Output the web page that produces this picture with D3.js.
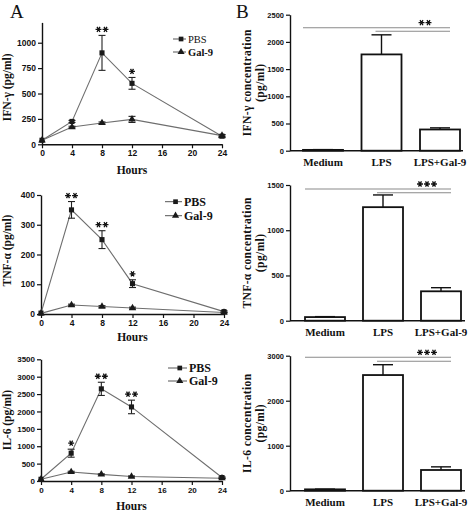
<!DOCTYPE html>
<html><head><meta charset="utf-8">
<script src="https://cdn.jsdelivr.net/npm/d3@7"></script>
<style>
body{margin:0;background:#fff;}
svg{display:block;}
.tick text{font-family:"Liberation Sans",Arial,sans-serif;font-weight:bold;fill:#111;}
.ser{font-family:"Liberation Serif","Times New Roman",serif;font-weight:bold;fill:#111;}
</style>
</head><body>
<svg id="c" width="474" height="512"></svg>
<script>
// ---------- data ----------
const hours = [0, 4, 8, 12, 24];
const hourTicks = [0, 4, 8, 12, 16, 20, 24];

const ifnPBS = [40, 225, 900, 600, 80];
const ifnPBSerr = [0, 10, 172, 58, 15];
const ifnGal = [40, 170, 210, 245, 85];
const ifnGalErr = [0, 8, 10, 30, 8];
const ifnStars = [0, 0, 2, 1, 0];
const ifnTicks = [0, 250, 500, 750, 1000];

const tnfPBS = [3, 350, 250, 102, 8];
const tnfPBSerr = [0, 28, 30, 13, 3];
const tnfGal = [2, 30, 25, 20, 5];
const tnfGalErr = [0, 3, 3, 3, 2];
const tnfStars = [0, 2, 2, 1, 0];
const tnfTicks = [0, 100, 200, 300, 400];

const il6PBS = [50, 800, 2650, 2130, 100];
const il6PBSerr = [0, 115, 190, 195, 20];
const il6Gal = [50, 260, 190, 130, 80];
const il6GalErr = [0, 20, 15, 15, 10];
const il6Stars = [0, 1, 2, 2, 0];
const il6Ticks = [0, 500, 1000, 1500, 2000, 2500, 3000, 3500];

const groups = ["Medium", "LPS", "LPS+Gal-9"];
const ifnBar = [15, 1770, 390];
const ifnBarErr = [5, 360, 30];
const ifnBarTicks = [0, 500, 1000, 1500, 2000, 2500];
const ifnBarStars = 2;
const tnfBar = [40, 1255, 325];
const tnfBarErr = [5, 135, 40];
const tnfBarTicks = [0, 500, 1000, 1500];
const tnfBarStars = 3;
const il6Bar = [30, 2570, 460];
const il6BarErr = [5, 230, 70];
const il6BarTicks = [0, 1000, 2000, 3000];
const il6BarStars = 3;

const seriesNames = ["PBS", "Gal-9"];

// ---------- drawing ----------
const svg = d3.select("#c");
const serif = '"Liberation Serif","Times New Roman",serif';
const fmt = d3.format("d");
const starSym = d3.symbol().type(d3.symbolAsterisk).size(24);

function drawStars(g, n, cx, cy) {
  const sp = 7;
  for (let k = 0; k < n; k++) {
    const sx = cx + (k - (n - 1) / 2) * sp;
    g.append("path").attr("d", starSym()).attr("transform", `translate(${sx},${cy}) rotate(90)`)
      .attr("fill", "none").attr("stroke", "#111").attr("stroke-width", 1.3);
  }
}

function linePanel(o) {
  const g = svg.append("g");
  const x = d3.scaleLinear().domain([0, 24]).range(o.xr);
  const y = d3.scaleLinear().domain([0, o.ymax]).range(o.yr);
  const ya = g.append("g").attr("transform", `translate(${o.xr[0]},0)`)
    .call(d3.axisLeft(y).tickValues(o.ticks).tickFormat(fmt).tickSize(4).tickSizeOuter(0).tickPadding(2));
  const xa = g.append("g").attr("transform", `translate(0,${o.yr[0]})`)
    .call(d3.axisBottom(x).tickValues(hourTicks).tickFormat(fmt).tickSize(4).tickSizeOuter(0).tickPadding(2));
  [ya, xa].forEach(a => {
    a.select(".domain").attr("stroke", "#111").attr("stroke-width", 1.4);
    a.selectAll(".tick line").attr("stroke", "#111").attr("stroke-width", 1.2);
    a.selectAll(".tick text").style("font-size", o.tickFs + "px");
  });
  const sets = [
    {v: o.pbs, e: o.pbsErr, m: "square"},
    {v: o.gal, e: o.galErr, m: "triangle"}
  ];
  sets.forEach(s => {
    const pts = hours.map((h, i) => [h, s.v[i], s.e[i]]);
    g.append("path").datum(pts)
      .attr("d", d3.line().x(d => x(d[0])).y(d => y(d[1])))
      .attr("fill", "none").attr("stroke", "#6e6e6e").attr("stroke-width", 1.1);
    pts.forEach(d => {
      if (d[2] > 0) {
        const cx = x(d[0]), y1 = y(d[1] + d[2]), y2 = y(Math.max(0, d[1] - d[2]));
        g.append("line").attr("x1", cx).attr("x2", cx).attr("y1", y1).attr("y2", y2)
          .attr("stroke", "#222").attr("stroke-width", 1.1);
        [y1, y2].forEach(yy => g.append("line").attr("x1", cx - 3.5).attr("x2", cx + 3.5)
          .attr("y1", yy).attr("y2", yy).attr("stroke", "#222").attr("stroke-width", 1.1));
      }
      g.append("path")
        .attr("d", d3.symbol().type(s.m === "square" ? d3.symbolSquare : d3.symbolTriangle)
          .size(s.m === "square" ? 26 : 24)())
        .attr("transform", `translate(${x(d[0])},${y(d[1])})`).attr("fill", "#1a1a1a");
    });
  });
  hours.forEach((h, i) => {
    if (!o.stars[i]) return;
    drawStars(g, o.stars[i], x(h), y(o.pbs[i] + o.pbsErr[i]) - 6);
  });
  seriesNames.forEach((n, i) => {
    const ly = o.leg[1] + i * o.leg[2];
    g.append("line").attr("x1", o.leg[0]).attr("x2", o.leg[0] + o.legLen).attr("y1", ly).attr("y2", ly)
      .attr("stroke", "#555").attr("stroke-width", 1);
    g.append("path").attr("d", d3.symbol().type(i === 0 ? d3.symbolSquare : d3.symbolTriangle).size(22)())
      .attr("transform", `translate(${o.leg[0] + o.legLen * 0.62},${ly})`).attr("fill", "#1a1a1a");
    g.append("text").attr("class", "ser").attr("x", o.leg[0] + o.legLen + 2).attr("y", ly).attr("dy", "0.35em")
      .style("font-size", o.legFs + "px").style("font-weight", (o.legNormalFirst && i === 0) ? "normal" : "bold")
      .text(n);
  });
  g.append("text").attr("class", "ser").attr("x", (o.xr[0] + o.xr[1]) / 2).attr("y", o.hoursY)
    .attr("text-anchor", "middle").style("font-size", "11.5px").text("Hours");
  g.append("text").attr("class", "ser")
    .attr("transform", `translate(${o.ylabX},${(o.yr[0] + o.yr[1]) / 2 + o.ylabDy}) rotate(-90)`)
    .attr("text-anchor", "middle").style("font-size", "11.5px").text(o.ylab);
}

function barPanel(o) {
  const g = svg.append("g");
  const x = d3.scalePoint().domain(groups).range(o.xr);
  const y = d3.scaleLinear().domain([0, o.ymax]).range(o.yr);
  const bw = 40;
  const ya = g.append("g").attr("transform", `translate(${o.axisX},0)`)
    .call(d3.axisLeft(y).tickValues(o.ticks).tickFormat(fmt).tickSize(4).tickSizeOuter(0).tickPadding(2));
  ya.select(".domain").attr("stroke", "#111").attr("stroke-width", 1.4);
  ya.selectAll(".tick line").attr("stroke", "#111").attr("stroke-width", 1.2);
  ya.selectAll(".tick text").style("font-size", "7.5px");
  g.append("line").attr("x1", o.axisX).attr("x2", o.axisEnd).attr("y1", o.yr[0]).attr("y2", o.yr[0])
    .attr("stroke", "#111").attr("stroke-width", 1.4);
  groups.forEach((c, i) => {
    const cx = x(c);
    const top = y(o.vals[i] + o.errs[i]);
    g.append("line").attr("x1", cx).attr("x2", cx).attr("y1", top).attr("y2", y(o.vals[i]))
      .attr("stroke", "#111").attr("stroke-width", 1.4);
    g.append("line").attr("x1", cx - 10).attr("x2", cx + 10).attr("y1", top).attr("y2", top)
      .attr("stroke", "#111").attr("stroke-width", 1.4);
    g.append("rect").attr("x", cx - bw / 2).attr("width", bw)
      .attr("y", y(o.vals[i])).attr("height", y(0) - y(o.vals[i]))
      .attr("fill", "#fff").attr("stroke", "#111").attr("stroke-width", 1.8);
    g.append("text").attr("class", "ser").attr("x", cx).attr("y", o.yr[0] + 15)
      .attr("text-anchor", "middle").style("font-size", "11px").text(c);
  });
  const s1 = x(groups[0]) - 20, s2 = x(groups[2]) + 10, s3 = x(groups[1]) - 6;
  g.append("line").attr("x1", s1).attr("x2", s2).attr("y1", o.sigY).attr("y2", o.sigY)
    .attr("stroke", "#8a8a8a").attr("stroke-width", 1.1);
  g.append("line").attr("x1", s3).attr("x2", s2).attr("y1", o.sigY + o.sigGap).attr("y2", o.sigY + o.sigGap)
    .attr("stroke", "#8a8a8a").attr("stroke-width", 1.1);
  drawStars(g, o.star, o.starX, o.sigY - 5);
  const cy = (o.yr[0] + o.yr[1]) / 2;
  g.append("text").attr("class", "ser").attr("transform", `translate(251,${cy}) rotate(-90)`)
    .attr("text-anchor", "middle").style("font-size", "11.5px").style("letter-spacing", "0.4px").text(o.ylab);
  g.append("text").attr("class", "ser").attr("transform", `translate(264,${cy}) rotate(-90)`)
    .attr("text-anchor", "middle").style("font-size", "11.5px").style("letter-spacing", "0.4px").text("(pg/ml)");
}

linePanel({xr: [42, 222], yr: [144.3, 22.4], ymax: 1200, ticks: ifnTicks,
  pbs: ifnPBS, pbsErr: ifnPBSerr, gal: ifnGal, galErr: ifnGalErr, stars: ifnStars,
  leg: [173, 39, 13], legLen: 13, legFs: 10.5, legNormalFirst: true, tickFs: 8.5,
  hoursY: 174, ylabX: 11, ylabDy: 4, ylab: "IFN-γ (pg/ml)"});
linePanel({xr: [41, 224], yr: [314, 195], ymax: 400, ticks: tnfTicks,
  pbs: tnfPBS, pbsErr: tnfPBSerr, gal: tnfGal, galErr: tnfGalErr, stars: tnfStars,
  leg: [165, 201.7, 14], legLen: 17, legFs: 12, tickFs: 8.5,
  hoursY: 341, ylabX: 11, ylabDy: -4, ylab: "TNF-α (pg/ml)"});
linePanel({xr: [41, 222], yr: [481, 359.3], ymax: 3500, ticks: il6Ticks,
  pbs: il6PBS, pbsErr: il6PBSerr, gal: il6Gal, galErr: il6GalErr, stars: il6Stars,
  leg: [168, 368, 13], legLen: 19, legFs: 12, tickFs: 8,
  hoursY: 510, ylabX: 11, ylabDy: 0, ylab: "IL-6 (pg/ml)"});

barPanel({xr: [323, 440], yr: [150.7, 14.7], ymax: 2500, ticks: ifnBarTicks, axisX: 290, axisEnd: 463,
  vals: ifnBar, errs: ifnBarErr, sigY: 27.7, sigGap: 3.6, starX: 425, star: ifnBarStars, ylab: "IFN-γ concentration"});
barPanel({xr: [325, 441], yr: [320.7, 185], ymax: 1500, ticks: tnfBarTicks, axisX: 290, axisEnd: 465,
  vals: tnfBar, errs: tnfBarErr, sigY: 189, sigGap: 3.7, starX: 427, star: tnfBarStars, ylab: "TNF-α concentration"});
barPanel({xr: [325, 441], yr: [490.7, 355.7], ymax: 3000, ticks: il6BarTicks, axisX: 290, axisEnd: 465,
  vals: il6Bar, errs: il6BarErr, sigY: 357.3, sigGap: 4, starX: 427, star: il6BarStars, ylab: "IL-6 concentration"});

svg.append("text").attr("x", 10).attr("y", 18).style("font-family", serif).style("font-size", "19px").attr("fill", "#111").text("A");
svg.append("text").attr("x", 236).attr("y", 18).style("font-family", serif).style("font-size", "19px").attr("fill", "#111").text("B");
</script>
</body></html>
